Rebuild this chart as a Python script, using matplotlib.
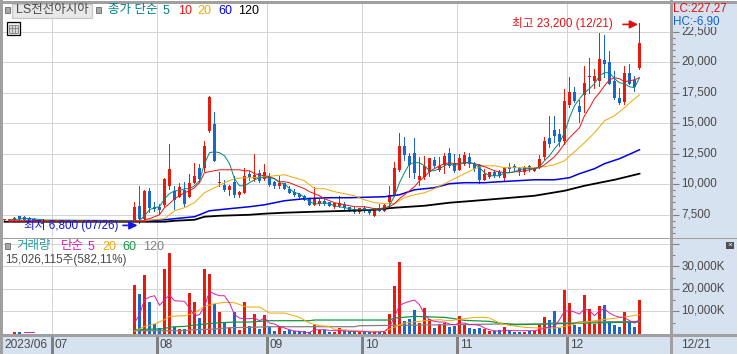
import numpy as np
import matplotlib
matplotlib.use("Agg")
import matplotlib.pyplot as plt
from matplotlib.patches import Rectangle
from matplotlib.ticker import MultipleLocator, FuncFormatter
from matplotlib.transforms import ScaledTranslation

plt.rcParams['font.family'] = ['Liberation Sans', 'Noto Sans CJK KR', 'DejaVu Sans']

# -------------------------------------------------
# DATA
# -------------------------------------------------
flat = [7000] * 18
opens = [7050, 7050, 7100, 7350, 7280, 7250, 7150, 7000] + flat + [
    7000, 8230, 7170, 9460, 8150, 8150, 8310, 9870, 9400, 8970,
    9540, 8970, 10120, 11290, 11350, 14380, 14960, 10080, 9950, 9540,
    10200, 9130, 9300, 10860, 10450, 10880, 10450, 10610, 10140, 9870,
    10060, 9630, 9320, 9220, 9050, 8800, 8310, 8400, 8640, 8500,
    8090, 8230, 8400, 8090, 7960, 7680, 8040, 7880, 7410, 8040,
    7820, 8500, 9130, 11180, 13150, 12330, 12580, 10360, 10610, 10960,
    12000, 11180, 11590, 12580, 11760, 11180, 11680, 12250, 11680, 11590,
    10360, 10550, 10960, 10960, 10530, 11430, 11510, 11320, 10960, 11510,
    11100, 11430, 12190, 13810, 14460, 14130, 13510, 16510, 17580, 16430,
    17330, 18750, 18480, 18480, 20200, 20040, 18480, 17090, 16760, 19140,
    18560, 19550]
closes = [7130, 7130, 7200, 7150, 7100, 7050, 7020, 7080] + flat + [
    8100, 7170, 9460, 8070, 7990, 7900, 10450, 11270, 8720, 9790,
    8400, 10120, 10690, 10450, 13150, 17170, 11920, 10200, 9540, 9870,
    9130, 9380, 10690, 10610, 10770, 10220, 10960, 9950, 9810, 10060,
    9630, 9300, 9130, 8910, 8720, 8310, 8800, 8640, 8400, 8230,
    8420, 8420, 8070, 7820, 7740, 8010, 7760, 7630, 8040, 7820,
    8310, 9130, 11290, 13150, 12410, 11590, 10880, 10690, 11450, 12110,
    11450, 11510, 12330, 11510, 11040, 12110, 12410, 11680, 11270, 10360,
    10860, 10960, 10690, 10690, 11350, 11260, 11290, 11100, 11430, 11240,
    11320, 12090, 13560, 13320, 13970, 13420, 16780, 17580, 16780, 15940,
    18320, 18890, 18890, 20290, 19880, 18240, 17090, 16680, 19140, 18240,
    17990, 21600]
highs = [7150, 7150, 7300, 7420, 7350, 7300, 7200, 7100] + flat + [
    8500, 9870, 9500, 9650, 8500, 8370, 10500, 13320, 9870, 10060,
    10140, 10830, 11700, 11650, 13560, 17200, 15940, 10960, 10340, 9900,
    10690, 9430, 11320, 11100, 12500, 11160, 11650, 10910, 10280, 10690,
    10080, 9810, 9600, 9300, 9100, 8850, 9730, 8780, 8780, 8550,
    8450, 9050, 8500, 8120, 8150, 8050, 8230, 7900, 8060, 8370,
    8350, 9870, 11780, 14220, 13890, 12550, 13780, 12190, 12270, 12150,
    12190, 12250, 12550, 12960, 12470, 12470, 12660, 12520, 11780, 11650,
    11240, 11000, 11160, 11160, 11380, 11700, 11650, 11430, 11510, 11590,
    11400, 12410, 13830, 15610, 15610, 14520, 17830, 18810, 17990, 16900,
    19710, 20370, 19470, 22420, 22250, 20940, 19300, 17910, 19710, 19850,
    18890, 23200]
lows = [7000, 7000, 7050, 7100, 7050, 7020, 7000, 7000] + flat + [
    6950, 6800, 7150, 7680, 7760, 7550, 8250, 9630, 7990, 8950,
    8230, 8910, 10080, 10140, 11100, 14240, 11900, 9870, 9460, 9130,
    8970, 8970, 9240, 10360, 10280, 10140, 10340, 9870, 9680, 9680,
    9600, 9250, 9050, 8880, 8700, 8280, 8280, 8310, 8300, 8200,
    8070, 8150, 7960, 7800, 7600, 7600, 7680, 7550, 7400, 7760,
    7800, 8090, 9050, 11100, 11980, 10550, 10500, 9950, 10420, 10690,
    11370, 11100, 10880, 11430, 10960, 11150, 11570, 11370, 11100, 10090,
    10340, 10530, 10550, 10550, 10340, 11100, 11160, 10770, 10830, 11100,
    11080, 11320, 12060, 13070, 13480, 13150, 13320, 16350, 16700, 15120,
    15940, 17500, 17910, 18070, 18810, 18210, 17000, 16570, 16600, 18200,
    17600, 19470]
volumes = [0, 0, 740, 740] + [0] * 22 + [
    21860, 17840, 26320, 14130, 4310, 2530, 29000, 36130, 2830, 2230,
    2230, 18290, 14280, 7140, 29000, 26770, 13090, 9810, 4610, 2530,
    9810, 1780, 14280, 3570, 8920, 2230, 8480, 2830, 1340, 3270,
    1340, 1490, 1040, 1040, 1040, 740, 4010, 1490, 1490, 890,
    890, 2680, 1340, 1040, 1190, 890, 890, 740, 740, 740,
    740, 8920, 21410, 32120, 5800, 6690, 10710, 4910, 11600, 6690,
    2680, 4160, 4910, 3120, 3570, 8030, 4310, 2680, 2230, 2680,
    2230, 1340, 1040, 1780, 3120, 1490, 890, 890, 890, 1040,
    1340, 3720, 7580, 6250, 10260, 2680, 19630, 13830, 4010, 3120,
    17400, 11150, 4460, 12490, 12940, 5800, 4010, 3120, 9810, 5800,
    3120, 15170]

ma5_early_idx = [1, 3, 4, 6, 8, 26]
ma5_early = [7080, 7130, 7200, 7150, 7060, 7020]
ma5 = [7000, 7410, 7900, 8070, 8150, 8810, 9220, 9460, 9460, 9630,
       9630, 9870, 10280, 11680, 12580, 12660, 12580, 12330, 11680, 10450,
       9870, 9870, 10120, 10360, 10530, 10530, 10530, 10450, 10120, 10040,
       9630, 9300, 9220, 8890, 8560, 8400, 8400, 8480, 8400, 8230,
       8150, 8070, 7990, 7900, 7900, 7900, 7900, 7900, 7900, 7990,
       8230, 9050, 10120, 10940, 11680, 11760, 11760, 11510, 11100, 11100,
       11270, 11510, 11680, 11510, 11680, 11760, 11760, 11680, 11350, 10940,
       10690, 10690, 10690, 10940, 10940, 11020, 11180, 11270, 11270, 11270,
       11430, 11920, 12330, 12910, 13400, 14220, 15450, 16430, 17010, 17500,
       17830, 18240, 18890, 19140, 19140, 18650, 18320, 18240, 17990, 17910,
       18730]
ma10_early_idx = [1, 28]
ma10_early = [6950, 6950]
ma10 = [7080, 7170, 7330, 7490, 8070, 8400, 8810, 9050, 9300, 9460,
        9710, 10120, 10940, 11020, 11100, 11180, 11180, 11180, 11180, 11180,
        11100, 11100, 10860, 10770, 10690, 10610, 10450, 10200, 10200, 10120,
        9950, 9790, 9630, 9380, 9220, 9050, 8810, 8640, 8480, 8400,
        8310, 8230, 8150, 8150, 8150, 8070, 7990, 7990, 8070, 8150,
        8400, 8810, 9130, 9460, 9790, 10280, 10610, 11020, 11270, 11510,
        11680, 11760, 11680, 11680, 11760, 11760, 11680, 11590, 11430, 11270,
        11100, 11020, 10940, 10940, 11020, 11020, 11100, 11180, 11270, 11350,
        11590, 11920, 12250, 12740, 13310, 13810, 14220, 14630, 15610, 16270,
        17010, 17500, 18070, 18560, 18730, 18650, 18400, 18480, 18560, 18730]
ma20_idx = list(range(28, 128, 2)) + [127]
ma20 = [7000, 7080, 7170, 7820, 8070, 8480, 9300, 9710, 10120, 10450,
        10530, 10530, 10610, 10690, 10770, 10530, 10280, 9630, 9630, 9380,
        9220, 9050, 8720, 8480, 8400, 8400, 8890, 9130, 9300, 9630,
        10040, 10450, 10860, 11270, 11510, 11510, 11350, 11350, 11350, 11350,
        11430, 11590, 11920, 12660, 13400, 14220, 15200, 15610, 16270, 17010,
        17330]
ma60_idx = [28, 32, 34, 36, 38, 41, 45, 49, 52, 56, 60, 65, 69, 76, 79, 82, 86,
            89, 92, 96, 99, 106, 110, 113, 115, 118, 120, 123, 127]
ma60 = [7000, 7080, 7170, 7250, 7330, 7820, 7990, 8150, 8310, 8640, 8810, 8890,
        8890, 8970, 9130, 9540, 9710, 10040, 10120, 10120, 10200, 10360, 10360,
        10530, 10860, 11270, 11680, 12090, 12820]
ma120_idx = [0, 32, 34, 38, 40, 43, 49, 52, 56, 62, 69, 74, 78, 84, 89, 94, 99,
             106, 112, 116, 120, 122, 127]
ma120 = [6920, 6920, 7000, 7080, 7330, 7410, 7490, 7580, 7660, 7740, 7820, 7900,
         8070, 8230, 8480, 8640, 8810, 9050, 9460, 9870, 10200, 10360, 10860]

vol_ma5_early_idx = [4, 6]
vol_ma5_early = [700, 700]
vol_ma5 = [4760, 8480, 15170, 16360, 16950, 12640, 15170, 17250, 14720, 14570,
           14420, 11450, 8030, 8480, 12190, 18880, 17700, 16950, 16950, 13680,
           8480, 6990, 6690, 6690, 6990, 5800, 6990, 4760, 4310, 3270,
           2530, 1780, 1190, 1040, 590, 590, 1780, 1780, 1780, 1490,
           1340, 1340, 1340, 1040, 1040, 1190, 1040, 740, 740, 740,
           1040, 2830, 7730, 12640, 13680, 14420, 15020, 12940, 8480, 6250,
           5500, 5200, 5200, 4310, 4010, 4760, 4760, 4010, 4010, 3720,
           2530, 1780, 1340, 1040, 1490, 1490, 1340, 1340, 1340, 1340,
           1340, 1780, 2530, 2970, 3270, 6250, 9960, 10260, 9670, 8770,
           11150, 10260, 8030, 10260, 11150, 9220, 8030, 7430, 7290, 5800,
           4760, 6250]
vol_ma20_idx = [26, 28, 30, 32, 33, 36, 38, 40, 42, 44, 46, 48, 49, 51, 53, 56,
                59, 61, 63, 65, 66, 68, 71, 76, 78, 80, 84, 87, 89, 92, 94, 96,
                97, 99, 101, 104, 107, 110, 112, 115, 118, 124, 127]
vol_ma20 = [1040, 3270, 4310, 6250, 7730, 8030, 9220, 12190, 13380, 13980,
            13830, 12190, 11900, 11900, 9220, 9220, 7290, 4760, 3570, 3270,
            1780, 1780, 1040, 1040, 2970, 4760, 5800, 6250, 5800, 6690,
            7290, 7290, 6990, 4760, 3720, 2830, 2530, 2530, 3270, 4760,
            5800, 7430, 8480]
vol_ma60_idx = [26, 32, 33, 36, 40, 42, 46, 49, 53, 61, 62, 77, 78, 82, 88, 90,
                92, 97, 99, 102, 117, 127]
vol_ma60 = [1780, 2230, 2970, 3270, 4310, 4760, 5200, 5200, 5800, 5800, 6100,
            6100, 6990, 7730, 7290, 6690, 5950, 5500, 4760, 4010, 4760, 5200]
vol_ma120_idx = [26, 36, 38, 42, 45, 49, 53, 70, 71, 78, 89, 99, 108, 109, 114,
                 115, 127]
vol_ma120 = [1340, 1340, 1780, 2080, 2680, 2830, 3120, 3120, 3570, 3720, 4010,
             4310, 4310, 4760, 4760, 5200, 5500]

month_pos = [-0.5, 9.56, 30.56, 52.56, 71.56, 90.56, 112.56]
month_labels = ["2023/06", "07", "08", "09", "10", "11", "12"]

# -------------------------------------------------
# STYLE
# -------------------------------------------------
W, H = 737, 354
RED = "#e81a0c"
BLUE = "#1a66cc"
GRID = "#d4d4d4"
FRAME = "#a0a0a0"
PANEL = "#d6e2f0"
TEXT = "#484848"
FS = 8.4


def px_axes(fig, left, top, right, bottom):
    return fig.add_axes([left / W, 1 - bottom / H, (right - left) / W, (bottom - top) / H])


def line(ax, x, y, color, lw=0.7):
    ax.plot(x, y, color=color, lw=lw, antialiased=True, solid_joinstyle="round", zorder=4)


fig = plt.figure(figsize=(W / 100, H / 100), dpi=100)
fig.patch.set_facecolor("white")

idx = np.arange(len(closes))
opens = np.array(opens)
closes = np.array(closes)
highs = np.array(highs)
lows = np.array(lows)
volumes = np.array(volumes)
colors = [RED if c >= o else BLUE for o, c in zip(opens, closes)]
xlim = (-0.3, 133.4)
# labels sit a little above their gridline in the original
label_shift = ScaledTranslation(0, 1.4 / 72, fig.dpi_scale_trans)

# -------------------------------------------------
# PRICE PANEL
# -------------------------------------------------
ax = px_axes(fig, 3, 3, 671.5, 237)
ax.set_xlim(xlim)
ax.set_ylim(5668, 24856)
ax.vlines(idx, lows, highs, colors=colors, lw=0.72, antialiased=False, zorder=2)
ax.bar(idx, np.maximum(np.abs(closes - opens), 40), bottom=np.minimum(opens, closes),
       width=0.68, color=colors, antialiased=False, zorder=3)
line(ax, ma120_idx, ma120, "black", 1.3)
line(ax, ma60_idx, ma60, "#0000e8", 1.1)
line(ax, ma20_idx, ma20, "#f0a800")
line(ax, ma10_early_idx, ma10_early, "#ee1010", 1.1)
line(ax, np.arange(28, 128), ma10, "#ee1010")
line(ax, ma5_early_idx, ma5_early, "#008878")
line(ax, np.arange(27, 128), ma5, "#008878")

ax.set_xticks(month_pos[1:])
ax.set_xticklabels([])
ax.yaxis.tick_right()
ax.yaxis.set_major_locator(MultipleLocator(2500))
ax.yaxis.set_minor_locator(MultipleLocator(500))
ax.yaxis.set_major_formatter(FuncFormatter(lambda v, _: f"{int(v):,}"))
ax.tick_params(axis="x", length=0)
ax.tick_params(axis="y", which="major", length=5, width=0.8, color="#808080",
               pad=2, labelsize=FS, labelcolor=TEXT)
ax.tick_params(axis="y", which="minor", length=2, width=0.8, color="#808080")
ax.grid(True, color=GRID, lw=0.72, antialiased=False, zorder=0)
ax.set_axisbelow(True)
for s in ax.spines.values():
    s.set_visible(False)
for lab in ax.get_yticklabels():
    lab.set_transform(lab.get_transform() + label_shift)

ax.text(ma5_early_idx[0] + 2.9, 6620, "최저 6,800 (07/26)", color="#1414e0", fontsize=FS,
        va="center", ha="left", zorder=6)
ax.annotate("", xy=(26.6, 6620), xytext=(23.7, 6620), zorder=6,
            arrowprops=dict(arrowstyle="-|>", color="#1414e0", lw=1.2, mutation_scale=12,
                            shrinkA=0, shrinkB=0))
ax.text(101.6, 23200, "최고 23,200 (12/21)", color="#e01010", fontsize=FS,
        va="center", ha="left", zorder=6)
ax.annotate("", xy=(126.7, 23100), xytext=(123.7, 23100), zorder=6,
            arrowprops=dict(arrowstyle="-|>", color="#e01010", lw=1.2, mutation_scale=12,
                            shrinkA=0, shrinkB=0))

# -------------------------------------------------
# VOLUME PANEL
# -------------------------------------------------
ax_vol = px_axes(fig, 3, 238, 671.5, 334)
ax_vol.set_xlim(xlim)
ax_vol.set_ylim(-130, 42700)
ax_vol.bar(idx, volumes, width=0.68, color=colors, antialiased=False, zorder=3)
ax_vol.plot([0, 26], [60, 60], color="#707070", lw=0.72, antialiased=False, zorder=4)
line(ax_vol, vol_ma120_idx, vol_ma120, "#808080", 0.9)
line(ax_vol, vol_ma60_idx, vol_ma60, "#109840", 0.9)
line(ax_vol, vol_ma20_idx, vol_ma20, "#f0a800")
line(ax_vol, vol_ma5_early_idx, vol_ma5_early, "#d81cb0")
line(ax_vol, np.arange(26, 128), vol_ma5, "#d81cb0")

ax_vol.set_xticks(month_pos[1:])
ax_vol.set_xticklabels([])
ax_vol.yaxis.tick_right()
ax_vol.yaxis.set_major_locator(MultipleLocator(10000))
ax_vol.yaxis.set_minor_locator(MultipleLocator(5000))
ax_vol.yaxis.set_major_formatter(FuncFormatter(lambda v, _: f"{int(v):,}K" if 0 < v < 35000 else ""))
ax_vol.tick_params(axis="x", length=0)
ax_vol.tick_params(axis="y", which="major", length=5, width=0.8, color="#808080",
                   pad=2, labelsize=FS, labelcolor=TEXT)
ax_vol.tick_params(axis="y", which="minor", length=2, width=0.8, color="#808080")
ax_vol.grid(True, color=GRID, lw=0.72, antialiased=False, zorder=0)
ax_vol.set_axisbelow(True)
for s in ax_vol.spines.values():
    s.set_visible(False)
for lab in ax_vol.get_yticklabels():
    lab.set_transform(lab.get_transform() + label_shift)

# -------------------------------------------------
# DATE STRIP
# -------------------------------------------------
ax_date = px_axes(fig, 3, 335, 671.5, 354)
ax_date.set_xlim(xlim)
ax_date.set_ylim(0, 1)
ax_date.set_facecolor(PANEL)
ax_date.set_xticks([])
ax_date.set_yticks([])
for s in ax_date.spines.values():
    s.set_visible(False)
ax_date.vlines(month_pos[1:], 0, 1, colors="#808080", lw=0.9, antialiased=False)
for pos, lab in zip(month_pos, month_labels):
    ax_date.text(pos + 0.45, 0.47, lab, color=TEXT, fontsize=FS + 0.2, ha="left", va="center")

# -------------------------------------------------
# CHROME (pixel coordinates)
# -------------------------------------------------
ui = fig.add_axes([0, 0, 1, 1], facecolor="none", zorder=10)
ui.set_xlim(0, W)
ui.set_ylim(H, 0)
ui.axis("off")
back = fig.add_axes([0, 0, 1, 1], zorder=-1)
back.set_xlim(0, W)
back.set_ylim(H, 0)
back.axis("off")
back.add_patch(Rectangle((671.5, 2), W - 671.5, H - 2, fc=PANEL, ec="none"))
back.add_patch(Rectangle((0, 335), W, H - 335, fc=PANEL, ec="none"))

ui.plot([0, W], [1.5, 1.5], color=FRAME, lw=1.0, antialiased=False)
ui.plot([1.5, 1.5], [0, H], color=FRAME, lw=1.0, antialiased=False)
ui.plot([2, W], [237.5, 237.5], color=FRAME, lw=0.72, antialiased=False)
ui.plot([2, W], [334.5, 334.5], color=FRAME, lw=1.0, antialiased=False)
ui.plot([671.5, 671.5], [0, H], color=FRAME, lw=1.0, antialiased=False)

# covers the top of the 22,500 label like the HC box does
ui.add_patch(Rectangle((672.5, 2.5), W - 673, 24.5, fc=PANEL, ec="none"))
ui.text(673, 8.5, "LC:227,27", color="#e01010", fontsize=FS, va="center")
ui.text(673, 21, "HC:-6,90", color="#1060d0", fontsize=FS, va="center")

for x0, y0 in [(5, 7), (96, 7), (5, 243)]:
    ui.add_patch(Rectangle((x0, y0), 5, 6, fc="#a8a8a8", ec="#787878", lw=0.7))
ui.add_patch(Rectangle((12.5, 3.5), 80, 14, fc="#e8e8e8", ec="#c8c8c8", lw=0.9))
ui.text(16, 10.5, "LS전선아시아", color=TEXT, fontsize=FS + 0.6, va="center")

top_legend = [(108, "종가 단순", "#008080"), (163, "5", "#008080"), (178, "10", "#ee1010"),
              (197.5, "20", "#f0a800"), (218, "60", "#0000e8"), (238, "120", "black")]
for x0, s, c in top_legend:
    ui.text(x0, 10.5, s, color=c, fontsize=FS + 0.6, va="center")

vol_legend = [(16.5, "거래량", "#2a9a9a"), (60.5, "단순", "#d81cb0"), (88, "5", "#d81cb0"),
              (102.5, "20", "#f0a800"), (122.5, "60", "#109840"), (143, "120", "#808080")]
for x0, s, c in vol_legend:
    ui.text(x0, 246.5, s, color=c, fontsize=FS + 0.6, va="center")
ui.text(5, 259.5, "15,026,115주(582,11%)", color=TEXT, fontsize=FS, va="center")

ui.text(681, 345, "12/21", color=TEXT, fontsize=FS + 0.2, va="center")

# table icon
ui.add_patch(Rectangle((7.5, 21.5), 13, 13, fc="#f0f0f0", ec="black", lw=0.9))
ui.add_patch(Rectangle((9.5, 24.5), 9, 8, fc="#d8d8d8", ec="#808080", lw=0.6))
ui.plot([12.5, 12.5], [24.5, 32.5], color="#808080", lw=0.6)
ui.plot([15.5, 15.5], [24.5, 32.5], color="#808080", lw=0.6)
ui.plot([9.5, 18.5], [28, 28], color="#808080", lw=0.6)

# collapse button
ui.add_patch(Rectangle((726, 241.5), 8, 7, fc="#505050", ec="none"))
ui.text(730, 245, "×", color="white", fontsize=6, ha="center", va="center")

fig.savefig("out.png", dpi=100, facecolor="white")
